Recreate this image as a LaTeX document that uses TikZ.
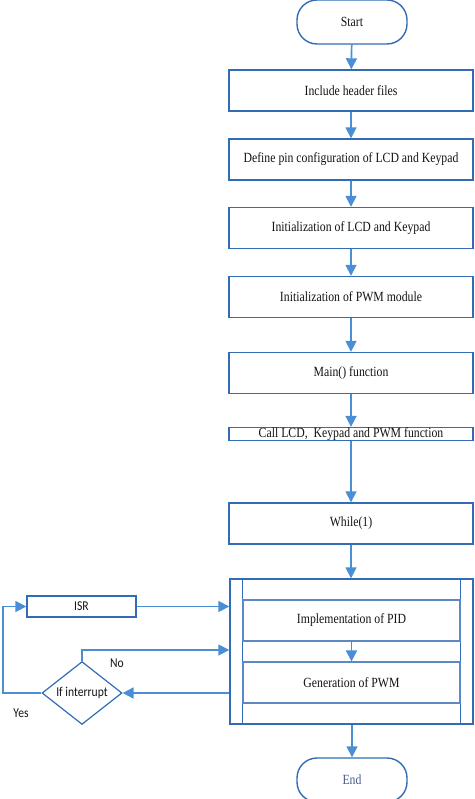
\documentclass[tikz,border=0pt]{standalone}
\usepackage{fontspec}
\setmainfont{Liberation Serif}[FakeStretch=0.84]
\newfontfamily\calfont{Carlito}[FakeStretch=0.86]
\usetikzlibrary{arrows.meta,shapes.geometric}
\definecolor{lineblue}{RGB}{74,142,214}
\definecolor{boxblue}{RGB}{50,108,180}
\definecolor{endtext}{RGB}{72,92,140}
\definecolor{txt}{RGB}{20,20,20}
\begin{document}
\begin{tikzpicture}[x=1pt,y=-1pt,
  stepbox/.style={draw=boxblue,line width=1.4pt,fill=white,inner sep=0pt,minimum width=244pt,minimum height=41pt,font=\fontsize{14}{16}\selectfont,text=txt},
  innerbox/.style={draw=boxblue!80,line width=1.1pt,fill=white,inner sep=0pt,minimum width=217pt,minimum height=41pt,font=\fontsize{14}{16}\selectfont,text=txt},
  term/.style={draw=boxblue,line width=1.4pt,fill=white,rounded corners=20pt,inner sep=0pt,minimum width=110pt,minimum height=44pt,font=\fontsize{14}{16}\selectfont,text=txt},
  conn/.style={draw=lineblue,line width=1.7pt,-{Triangle[length=11pt,width=11pt]}},
  lbl/.style={font=\calfont\fontsize{13.5}{15}\selectfont,text=txt,inner sep=0pt}
]
\useasboundingbox (0,0) rectangle (474,799);
\clip (0,0) rectangle (474,799);
\node[term] (start) at (352,22) {Start};
\node[stepbox] (b1) at (351,90.5) {Include header files};
\node[stepbox] (b2) at (351,159.5) {Define pin configuration of LCD and Keypad};
\node[stepbox] (b3) at (351,228) {Initialization of LCD and Keypad};
\node[stepbox] (b4) at (351,297) {Initialization of PWM module};
\node[stepbox] (b5) at (351,373) {Main() function};
\node[stepbox,minimum height=12pt] (b6) at (351,434) {Call LCD,\ \ Keypad and PWM function};
\node[stepbox] (b7) at (351,523.5) {While(1)};
\node[draw=boxblue,line width=1.4pt,fill=white,inner sep=0pt,minimum width=243pt,minimum height=145pt] (cont) at (351.5,651.5) {};
\draw[boxblue,line width=1.1pt] ([xshift=13pt]cont.north west) -- ([xshift=13pt]cont.south west);
\draw[boxblue,line width=1.1pt] ([xshift=-13pt]cont.north east) -- ([xshift=-13pt]cont.south east);
\node[innerbox] (pid) at (351.5,620.5) {Implementation of PID};
\node[innerbox] (pwm) at (351.5,682.5) {Generation of PWM};
\node[term,text=endtext] (end) at (352,780) {End};
\node[draw=boxblue,line width=1.4pt,fill=white,inner sep=0pt,minimum width=109pt,minimum height=21pt,font=\calfont\fontsize{13.5}{15}\selectfont,text=txt] (isr) at (81.5,606.5) {ISR};
\node[diamond,draw=boxblue,line width=1.2pt,fill=white,inner sep=0pt,minimum width=80pt,minimum height=62pt,font=\calfont\fontsize{13.5}{15}\selectfont,text=txt] (dec) at (82,693) {If interrupt};
\coordinate (yl) at (3,693);
\coordinate (yt) at (3,606.5);
\coordinate (nt) at (82,650);
\draw[conn] (start) -- (b1);
\draw[conn] (b1) -- (b2);
\draw[conn] (b2) -- (b3);
\draw[conn] (b3) -- (b4);
\draw[conn] (b4) -- (b5);
\draw[conn] (b5) -- (b6);
\draw[conn] (b6) -- (b7);
\draw[conn] (b7.south) -- (b7.south |- cont.north);
\draw[conn] (pid) -- (pwm);
\draw[conn] (cont.south -| end) -- (end);
\draw[conn] (isr.east) -- (isr.east -| cont.west);
\draw[conn] (cont.west |- dec) -- (dec.east);
\draw[conn] (dec.north) -- (nt) -- (nt -| cont.west);
\draw[conn] (dec.west) -- (yl) -- (yt) -- (isr.west);
\node[lbl] (no) at (117,663) {No};
\node[lbl] (yes) at (21,713) {Yes};
\end{tikzpicture}
\end{document}
